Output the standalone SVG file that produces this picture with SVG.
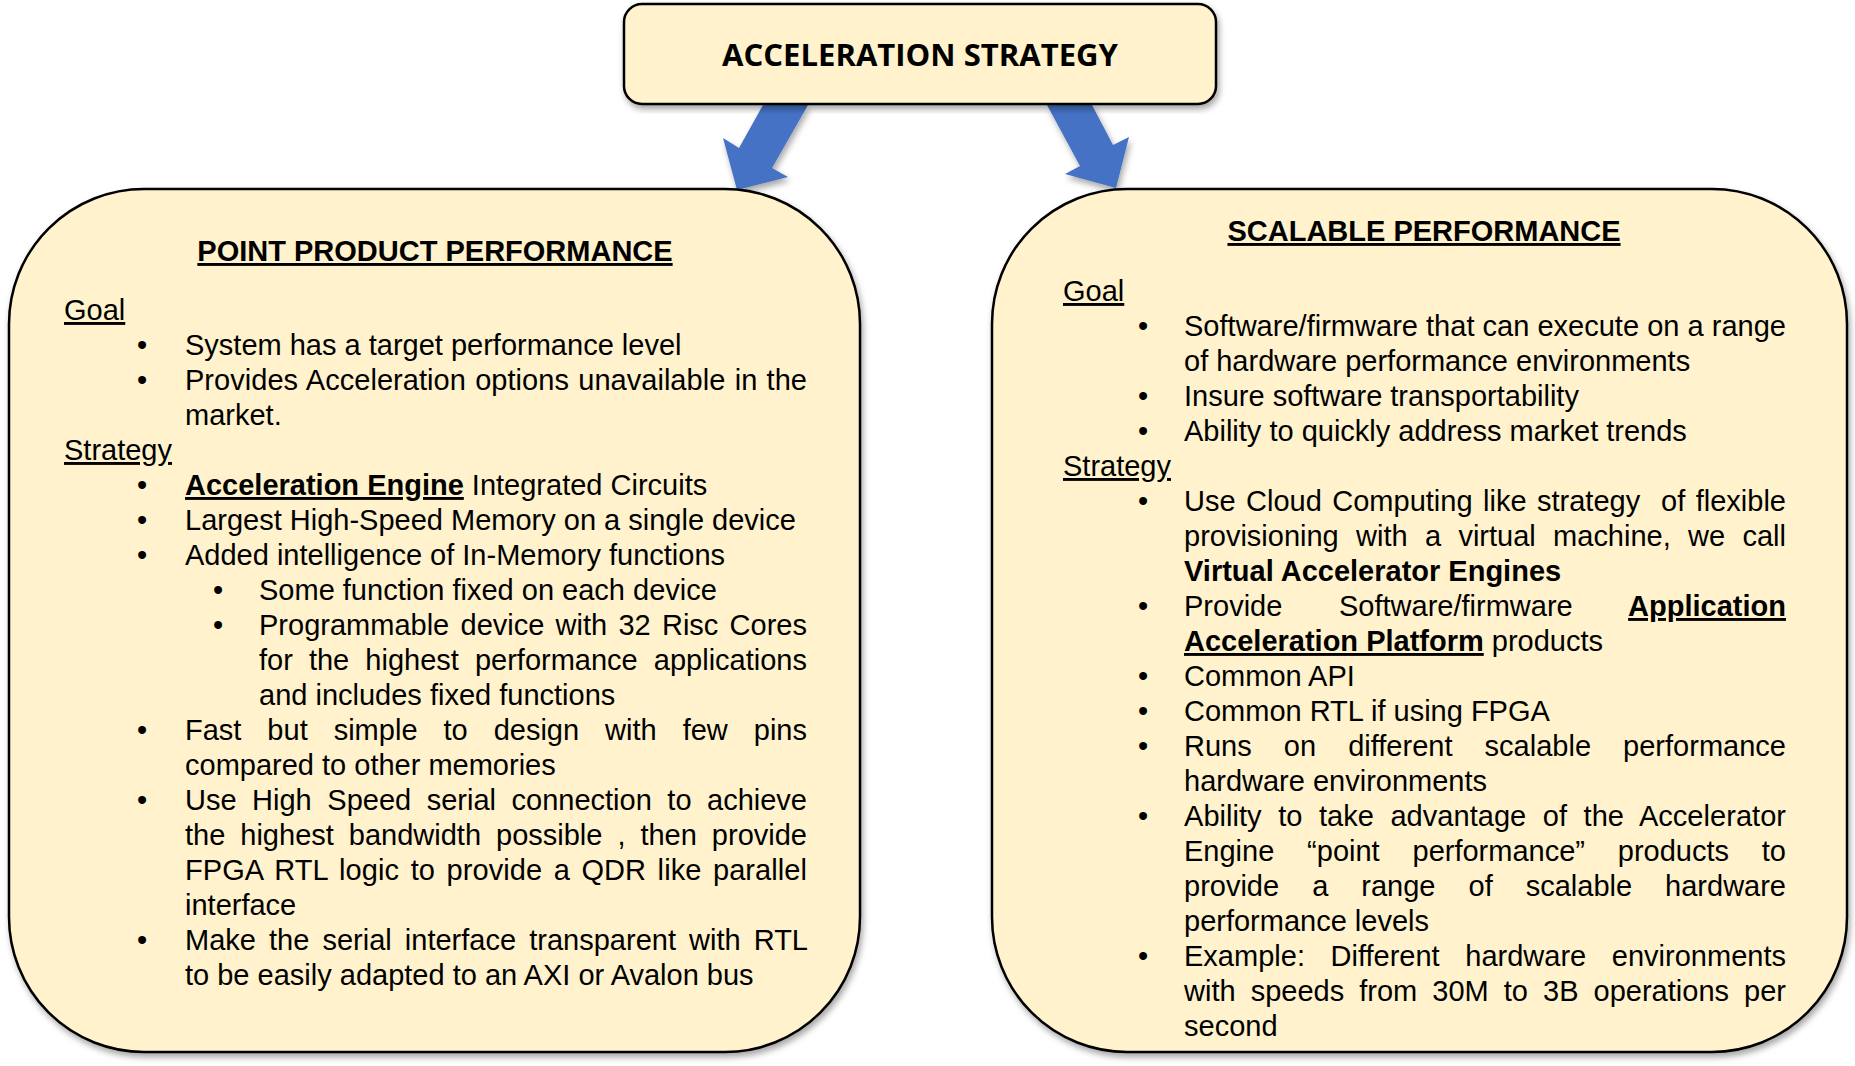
<svg xmlns="http://www.w3.org/2000/svg" width="1855" height="1066" viewBox="0 0 1855 1066">
<defs>
<filter id="sh" x="-5%" y="-5%" width="112%" height="115%">
<feDropShadow dx="2" dy="4" stdDeviation="3" flood-color="#000" flood-opacity="0.35"/>
</filter>
<style>
.box{fill:#FFF2CC;stroke:#000;stroke-width:2.5}
.arr{fill:#4472C4}
.t{font-family:"Liberation Sans",Arial,sans-serif;font-size:29px;fill:#000}
.b{font-weight:bold}
.u{text-decoration:underline}
.h{font-family:"Liberation Sans",Arial,sans-serif;font-size:29px;font-weight:bold;text-decoration:underline;text-anchor:middle}
.top{font-family:"Open Sans","Liberation Sans",sans-serif;font-size:31px;font-weight:700;text-anchor:middle}
.e{text-anchor:end}
</style>
</defs>
<rect width="1855" height="1066" fill="#fff"/>
<g id="connectors" filter="url(#sh)">
<polygon class="arr" points="763,105 808,105 772,168 788,177 737,190 723,138 739,148"/>
<polygon class="arr" points="1047,105 1092,105 1113,145 1129,137 1116,188 1065,174 1080,166"/>
</g>
<g id="node-strategy">
<rect class="box" x="624" y="4" width="592" height="100" rx="18" ry="18" stroke-width="3" filter="url(#sh)"/>
<text class="top" x="920" y="66" textLength="396" lengthAdjust="spacingAndGlyphs">ACCELERATION STRATEGY</text>
</g>
<g id="node-point">
<rect class="box" x="9" y="189" width="851" height="863" rx="135" ry="135" filter="url(#sh)"/>
<text class="h" x="435" y="261">POINT PRODUCT PERFORMANCE</text>
<text class="t u" x="64" y="320">Goal</text>
<text class="t" x="137" y="355">•</text>
<text class="t" x="185" y="355">System has a target performance level</text>
<text class="t" x="137" y="390">•</text>
<text class="t" x="185" y="390" word-spacing="1.2" textLength="622" lengthAdjust="spacing">Provides Acceleration options unavailable in the</text>
<text class="t" x="185" y="425">market.</text>
<text class="t u" x="64" y="460">Strategy</text>
<text class="t" x="137" y="495">•</text>
<text class="t" x="185" y="495"><tspan class="b u">Acceleration Engine</tspan> Integrated Circuits</text>
<text class="t" x="137" y="530">•</text>
<text class="t" x="185" y="530">Largest High-Speed Memory on a single device</text>
<text class="t" x="137" y="565">•</text>
<text class="t" x="185" y="565">Added intelligence of In-Memory functions</text>
<text class="t" x="213" y="600">•</text>
<text class="t" x="259" y="600">Some function fixed on each device</text>
<text class="t" x="213" y="635">•</text>
<text class="t" x="259" y="635" word-spacing="3.2" textLength="548" lengthAdjust="spacing">Programmable device with 32 Risc Cores</text>
<text class="t" x="259" y="670" word-spacing="8" textLength="548" lengthAdjust="spacing">for the highest performance applications</text>
<text class="t" x="259" y="705">and includes fixed functions</text>
<text class="t" x="137" y="740">•</text>
<text class="t" x="185" y="740" word-spacing="17.9" textLength="622" lengthAdjust="spacing">Fast but simple to design with few pins</text>
<text class="t" x="185" y="775">compared to other memories</text>
<text class="t" x="137" y="810">•</text>
<text class="t" x="185" y="810" word-spacing="7.5" textLength="622" lengthAdjust="spacing">Use High Speed serial connection to achieve</text>
<text class="t" x="185" y="845" word-spacing="6.9" textLength="622" lengthAdjust="spacing">the highest bandwidth possible , then provide</text>
<text class="t" x="185" y="880" word-spacing="3.4" textLength="622" lengthAdjust="spacing">FPGA RTL logic to provide a QDR like parallel</text>
<text class="t" x="185" y="915">interface</text>
<text class="t" x="137" y="950">•</text>
<text class="t" x="185" y="950" word-spacing="5" textLength="623" lengthAdjust="spacing">Make the serial interface transparent with RTL</text>
<text class="t" x="185" y="985">to be easily adapted to an AXI or Avalon bus</text>
</g>
<g id="node-scalable">
<rect class="box" x="992" y="189" width="855" height="863" rx="135" ry="135" filter="url(#sh)"/>
<text class="h" x="1424" y="241">SCALABLE PERFORMANCE</text>
<text class="t u" x="1063" y="301">Goal</text>
<text class="t" x="1138" y="336">•</text>
<text class="t" x="1184" y="336" textLength="602" lengthAdjust="spacing">Software/firmware that can execute on a range</text>
<text class="t" x="1184" y="371">of hardware performance environments</text>
<text class="t" x="1138" y="406">•</text>
<text class="t" x="1184" y="406">Insure software transportability</text>
<text class="t" x="1138" y="441">•</text>
<text class="t" x="1184" y="441">Ability to quickly address market trends</text>
<text class="t u" x="1063" y="476">Strategy</text>
<text class="t" x="1138" y="511">•</text>
<text class="t" x="1184" y="511" xml:space="preserve" word-spacing="2.4" textLength="602" lengthAdjust="spacing">Use Cloud Computing like strategy  of flexible</text>
<text class="t" x="1184" y="546" word-spacing="9.3" textLength="602" lengthAdjust="spacing">provisioning with a virtual machine, we call</text>
<text class="t b" x="1184" y="581">Virtual Accelerator Engines</text>
<text class="t" x="1138" y="616">•</text>
<text class="t" x="1184" y="616">Provide</text>
<text class="t" x="1339" y="616">Software/firmware</text>
<text class="t b u e" x="1786" y="616">Application</text>
<text class="t" x="1184" y="651"><tspan class="b u">Acceleration Platform</tspan> products</text>
<text class="t" x="1138" y="686">•</text>
<text class="t" x="1184" y="686">Common API</text>
<text class="t" x="1138" y="721">•</text>
<text class="t" x="1184" y="721">Common RTL if using FPGA</text>
<text class="t" x="1138" y="756">•</text>
<text class="t" x="1184" y="756" word-spacing="24" textLength="602" lengthAdjust="spacing">Runs on different scalable performance</text>
<text class="t" x="1184" y="791">hardware environments</text>
<text class="t" x="1138" y="826">•</text>
<text class="t" x="1184" y="826" word-spacing="8.4" textLength="602" lengthAdjust="spacing">Ability to take advantage of the Accelerator</text>
<text class="t" x="1184" y="861" word-spacing="24.8" textLength="602" lengthAdjust="spacing">Engine “point performance” products to</text>
<text class="t" x="1184" y="896" word-spacing="25" textLength="602" lengthAdjust="spacing">provide a range of scalable hardware</text>
<text class="t" x="1184" y="931">performance levels</text>
<text class="t" x="1138" y="966">•</text>
<text class="t" x="1184" y="966" word-spacing="17.5" textLength="602" lengthAdjust="spacing">Example: Different hardware environments</text>
<text class="t" x="1184" y="1001" word-spacing="7" textLength="602" lengthAdjust="spacing">with speeds from 30M to 3B operations per</text>
<text class="t" x="1184" y="1036">second</text>
</g>
</svg>
